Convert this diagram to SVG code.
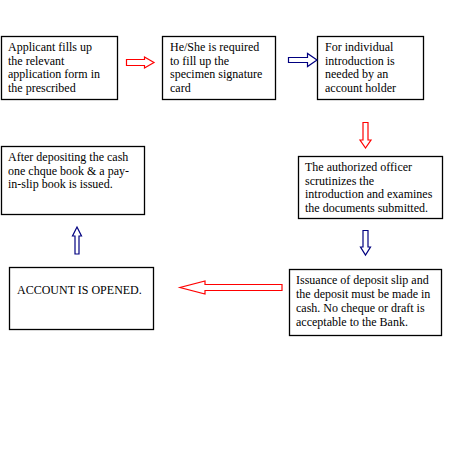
<svg xmlns="http://www.w3.org/2000/svg" width="455" height="452" viewBox="0 0 455 452">
<style>
.box{fill:#fff;stroke:#000;stroke-width:1.3}
.t{font-family:"Liberation Serif","Times New Roman",serif;font-size:12px;fill:#000}
.ar{fill:#fff;stroke:#ff0000;stroke-width:1.2}
.ab{fill:#fff;stroke:#000080;stroke-width:1.2}
</style>
<rect width="455" height="452" fill="#fff"/>
<g id="n1"><rect class="box" x="1.5" y="36.5" width="116" height="63"/>
<text class="t" x="8"><tspan x="8" y="51">Applicant fills up</tspan><tspan x="8" y="64.5">the relevant</tspan><tspan x="8" y="78">application form in</tspan><tspan x="8" y="91.5">the prescribed</tspan></text></g>
<g id="n2"><rect class="box" x="162.5" y="36.5" width="113" height="63"/>
<text class="t"><tspan x="170" y="51">He/She is required</tspan><tspan x="170" y="64.5">to fill up the</tspan><tspan x="170" y="78">specimen signature</tspan><tspan x="170" y="91.5">card</tspan></text></g>
<g id="n3"><rect class="box" x="317.5" y="36.5" width="106" height="63"/>
<text class="t"><tspan x="325" y="51">For individual</tspan><tspan x="325" y="64.5">introduction is</tspan><tspan x="325" y="78">needed by an</tspan><tspan x="325" y="91.5">account holder</tspan></text></g>
<g id="n4"><rect class="box" x="298.5" y="156.5" width="144" height="62"/>
<text class="t"><tspan x="305" y="171">The authorized officer</tspan><tspan x="305" y="184.5">scrutinizes the</tspan><tspan x="305" y="198">introduction and examines</tspan><tspan x="305" y="211.5">the documents submitted.</tspan></text></g>
<g id="n5"><rect class="box" x="1.5" y="146.5" width="143" height="68"/>
<text class="t"><tspan x="8" y="161">After depositing the cash</tspan><tspan x="8" y="174.5">one chque book &amp; a pay-</tspan><tspan x="8" y="188">in-slip book is issued.</tspan></text></g>
<g id="n6"><rect class="box" x="9.5" y="267.5" width="144" height="62"/>
<text class="t" x="17" y="294">ACCOUNT IS OPENED.</text></g>
<g id="n7"><rect class="box" x="289.5" y="269.5" width="152" height="66"/>
<text class="t"><tspan x="296" y="284">Issuance of deposit slip and</tspan><tspan x="296" y="298">the deposit must be made in</tspan><tspan x="296" y="312">cash. No cheque or draft is</tspan><tspan x="296" y="326">acceptable to the Bank.</tspan></text></g>
<g id="connectors">
<polygon class="ar" points="126.5,59.5 144.5,59.5 144.5,57 154,62.5 144.5,68 144.5,65.5 126.5,65.5"/>
<polygon class="ab" points="288.5,57.5 307.5,57.5 307.5,53.5 317,60 307.5,66.5 307.5,62.5 288.5,62.5"/>
<polygon class="ar" points="363,122.5 368,122.5 368,140 371,140 365.5,148 360,140 363,140"/>
<polygon class="ab" points="363,230.5 368,230.5 368,247 370.5,247 365.5,255 360.5,247 363,247"/>
<polygon class="ar" points="282,284.5 205,284.5 205,281 180,287.5 205,294 205,290.5 282,290.5"/>
<polygon class="ab" points="75,254 79,254 79,236 81.5,236 77,227 72.5,236 75,236"/>
</g>
</svg>
